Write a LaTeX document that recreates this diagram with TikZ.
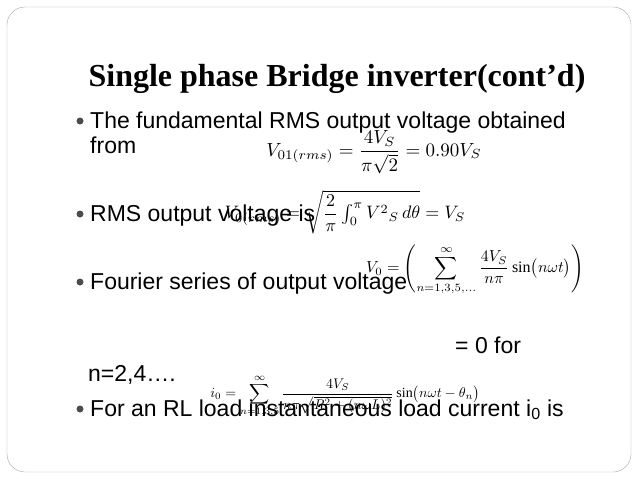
\documentclass[tikz,border=0pt]{standalone}
\usepackage{amsmath}
\usepackage{graphicx}
\usepackage{fontspec}
\setmainfont{Liberation Serif}
\setsansfont{Liberation Sans}
\begin{document}
\begin{tikzpicture}[x=1pt,y=-1pt,
  body/.style={anchor=base west,inner sep=0,font=\sffamily\fontsize{23}{25}\selectfont},
  bul/.style={circle,fill=black!70,inner sep=0,minimum size=7pt},
  eq/.style={inner sep=0}]
\useasboundingbox (0,0) rectangle (638,479);
\draw[gray!70,rounded corners=18pt] (7,7) rectangle (631,472);
\node[anchor=base,inner sep=0,font=\bfseries\fontsize{32}{34}\selectfont] (t) at (337,86) {Single phase Bridge inverter(cont’d)};
\node[bul] (b1) at (80,121) {};
\node[body] (l1) at (90,128) {The fundamental RMS output voltage obtained};
\node[body] (l1b) at (90,153) {from};
\node[eq] (e1) at (374,152) {\scalebox{1.9}{$V_{01(rms)}=\dfrac{4V_S}{\pi\sqrt{2}}=0.90V_S$}};
\node[bul] (b2) at (80,214) {};
\node[body] (l2) at (90,221) {RMS output voltage is};
\node[eq] (e2) at (345,212) {\scalebox{1.8}{$V_{0(rms)}=\sqrt{\dfrac{2}{\pi}\int_0^{\pi}V^2{}_S\,d\theta}=V_S$}};
\node[bul] (b3) at (80,282) {};
\node[body] (l3) at (90,289) {Fourier series of output voltage};
\node[eq] (e3) at (475,270) {\scalebox{1.6}{$V_0=\left(\displaystyle\sum_{n=1,3,5,\ldots}^{\infty}\frac{4V_S}{n\pi}\sin\bigl(n\omega t\bigr)\right)$}};
\node[body] (l4) at (455,353) {= 0 for};
\node[body] (l5) at (88,381) {n=2,4….};
\node[eq] (e4) at (345,396) {\scalebox{1.4}{$i_0=\displaystyle\sum_{n=1,3,5}^{\infty}\frac{4V_S}{n\pi\sqrt{R^2+(n\omega L)^2}}\sin\bigl(n\omega t-\theta_n\bigr)$}};
\node[bul] (b4) at (80,409) {};
\node[body] (l6) at (90,416) {For an RL load instantaneous load current i\textsubscript{0} is};
\end{tikzpicture}
\end{document}
